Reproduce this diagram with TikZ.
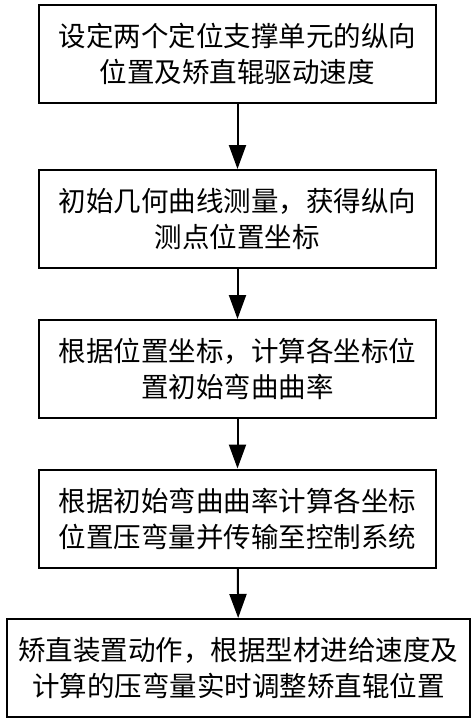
\documentclass[tikz,border=0pt]{standalone}
\usepackage{fontspec}
\newfontfamily\cjk{Noto Sans CJK SC}
\usetikzlibrary{arrows.meta}
\begin{document}
\begin{tikzpicture}[x=1pt,y=-1pt,
  box/.style={draw, line width=2pt, minimum width=397pt, minimum height=98pt,
    align=center, inner sep=0pt, font=\cjk\fontsize{27.5}{36}\selectfont},
  arr/.style={-{Triangle[width=17pt,length=24pt]}, line width=2pt}]
\useasboundingbox (0,0) rectangle (474,724);
\node[box] (b1) at (237.5,53.5) {设定两个定位支撑单元的纵向\\位置及矫直辊驱动速度};
\node[box] (b2) at (237.5,219) {初始几何曲线测量，获得纵向\\测点位置坐标};
\node[box] (b3) at (237.5,369) {根据位置坐标，计算各坐标位\\置初始弯曲曲率};
\node[box] (b4) at (237.5,518.5) {根据初始弯曲曲率计算各坐标\\位置压弯量并传输至控制系统};
\node[box, minimum width=463pt] (b5) at (238.5,668) {矫直装置动作，根据型材进给速度及\\计算的压弯量实时调整矫直辊位置};
\draw[arr] (b1) -- (b2);
\draw[arr] (b2) -- (b3);
\draw[arr] (b3) -- (b4);
\draw[arr] (b4) -- (b5);
\end{tikzpicture}
\end{document}
